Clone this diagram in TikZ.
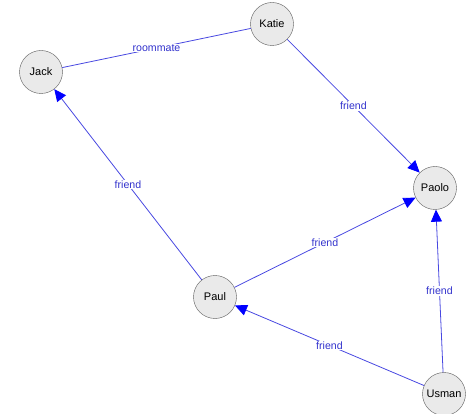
\documentclass[tikz,border=0pt]{standalone}
\usepackage{fontspec}
\setmainfont{Liberation Sans}
\usetikzlibrary{arrows.meta}
\definecolor{edgeblue}{RGB}{72,72,225}
\definecolor{labelblue}{RGB}{50,50,205}
\definecolor{nodefill}{RGB}{234,234,234}

\begin{document}
\begin{tikzpicture}[
    x=1pt, y=-1pt,
    >={Triangle[length=12pt, width=11pt]},
    person/.style={draw=black!65, fill=nodefill, circle, minimum size=43pt, inner sep=0pt, font=\fontsize{11}{13}\selectfont},
    tie/.style={draw=edgeblue, line width=0.8pt},
    tiearrow/.style={tie, ->, >={Triangle[length=12pt, width=11pt, fill=blue, color=blue]}},
    tielabel/.style={fill=white, inner sep=0.8pt, text=labelblue, font=\fontsize{10.6}{12}\selectfont}
]
    \useasboundingbox (0,0) rectangle (474,414);

    % Personen
    \node[person] (jack)  at (41,72)   {Jack};
    \node[person] (katie) at (272,24)  {Katie};
    \node[person] (paolo) at (435,188) {Paolo};
    \node[person] (paul)  at (215,297) {Paul};
    \node[person] (usman) at (444,394) {Usman};

    % Beziehungen
    \draw[tie] (jack) -- node[tielabel] {roommate} (katie);
    \draw[tiearrow] (katie) -- node[tielabel] {friend} (paolo);
    \draw[tiearrow] (paul) -- node[tielabel] {friend} (jack);
    \draw[tiearrow] (paul) -- node[tielabel] {friend} (paolo);
    \draw[tiearrow] (usman) -- node[tielabel] {friend} (paul);
    \draw[tiearrow] (usman) -- node[tielabel] {friend} (paolo);

\end{tikzpicture}
\end{document}
